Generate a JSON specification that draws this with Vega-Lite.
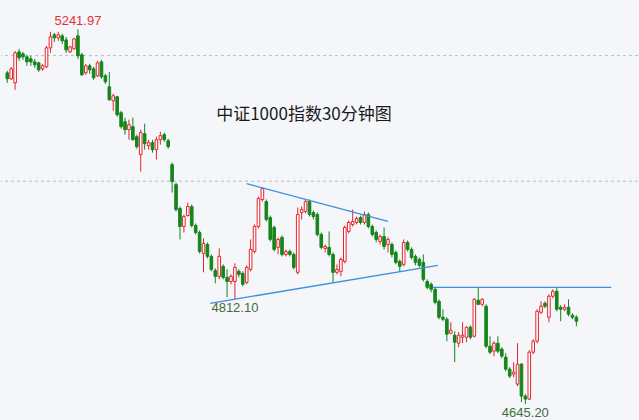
{
  "$schema": "https://vega.github.io/schema/vega-lite/v6.json",
  "width": 639,
  "height": 420,
  "autosize": {"type": "fit", "contains": "padding"},
  "padding": 0,
  "background": "#f4f6f9",
  "datasets": {
    "candles": [
      {"i": 0, "o": 5172.5, "h": 5175.7, "l": 5156.6, "c": 5163.0},
      {"i": 1, "o": 5163.0, "h": 5182.1, "l": 5161.4, "c": 5178.9},
      {"i": 2, "o": 5156.6, "h": 5207.5, "l": 5145.5, "c": 5204.3},
      {"i": 3, "o": 5205.9, "h": 5210.7, "l": 5191.6, "c": 5196.4},
      {"i": 4, "o": 5202.7, "h": 5205.9, "l": 5193.2, "c": 5198.0},
      {"i": 5, "o": 5198.0, "h": 5201.2, "l": 5183.7, "c": 5190.0},
      {"i": 6, "o": 5194.8, "h": 5199.6, "l": 5183.7, "c": 5190.0},
      {"i": 7, "o": 5190.0, "h": 5194.8, "l": 5180.5, "c": 5185.3},
      {"i": 8, "o": 5188.4, "h": 5190.0, "l": 5174.1, "c": 5177.3},
      {"i": 9, "o": 5178.9, "h": 5186.8, "l": 5175.7, "c": 5183.7},
      {"i": 10, "o": 5182.1, "h": 5215.5, "l": 5180.5, "c": 5212.3},
      {"i": 11, "o": 5212.3, "h": 5237.7, "l": 5204.3, "c": 5229.8},
      {"i": 12, "o": 5233.0, "h": 5236.1, "l": 5221.8, "c": 5228.2},
      {"i": 13, "o": 5228.2, "h": 5237.7, "l": 5223.4, "c": 5233.0},
      {"i": 14, "o": 5231.4, "h": 5234.6, "l": 5218.6, "c": 5223.4},
      {"i": 15, "o": 5225.0, "h": 5229.8, "l": 5204.3, "c": 5209.1},
      {"i": 16, "o": 5205.9, "h": 5215.5, "l": 5204.3, "c": 5213.9},
      {"i": 17, "o": 5210.7, "h": 5228.2, "l": 5209.1, "c": 5226.6},
      {"i": 18, "o": 5231.4, "h": 5241.97, "l": 5194.8, "c": 5199.6},
      {"i": 19, "o": 5201.2, "h": 5204.3, "l": 5167.8, "c": 5169.4},
      {"i": 20, "o": 5172.5, "h": 5186.8, "l": 5169.4, "c": 5183.7},
      {"i": 21, "o": 5183.7, "h": 5186.8, "l": 5170.9, "c": 5177.3},
      {"i": 22, "o": 5178.9, "h": 5182.1, "l": 5161.4, "c": 5164.6},
      {"i": 23, "o": 5167.8, "h": 5191.6, "l": 5166.2, "c": 5188.4},
      {"i": 24, "o": 5190.0, "h": 5193.2, "l": 5163.0, "c": 5166.2},
      {"i": 25, "o": 5167.8, "h": 5170.9, "l": 5155.0, "c": 5158.2},
      {"i": 26, "o": 5150.3, "h": 5174.1, "l": 5128.1, "c": 5129.7},
      {"i": 27, "o": 5128.1, "h": 5139.2, "l": 5112.2, "c": 5136.0},
      {"i": 28, "o": 5134.4, "h": 5136.0, "l": 5102.7, "c": 5105.8},
      {"i": 29, "o": 5109.0, "h": 5112.2, "l": 5083.6, "c": 5086.8},
      {"i": 30, "o": 5094.7, "h": 5101.1, "l": 5074.1, "c": 5082.0},
      {"i": 31, "o": 5082.0, "h": 5097.9, "l": 5066.1, "c": 5089.9},
      {"i": 32, "o": 5086.8, "h": 5101.1, "l": 5064.5, "c": 5066.1},
      {"i": 33, "o": 5070.9, "h": 5074.1, "l": 5051.8, "c": 5055.0},
      {"i": 34, "o": 5042.3, "h": 5082.0, "l": 5015.3, "c": 5077.3},
      {"i": 35, "o": 5075.7, "h": 5091.5, "l": 5050.2, "c": 5059.8},
      {"i": 36, "o": 5056.6, "h": 5066.1, "l": 5050.2, "c": 5061.4},
      {"i": 37, "o": 5061.4, "h": 5066.1, "l": 5045.5, "c": 5050.2},
      {"i": 38, "o": 5050.2, "h": 5070.9, "l": 5034.4, "c": 5066.1},
      {"i": 39, "o": 5066.1, "h": 5078.8, "l": 5058.2, "c": 5072.5},
      {"i": 40, "o": 5074.1, "h": 5077.3, "l": 5062.9, "c": 5066.1},
      {"i": 41, "o": 5064.5, "h": 5067.7, "l": 5051.8, "c": 5055.0},
      {"i": 42, "o": 5026.4, "h": 5029.6, "l": 4981.9, "c": 4999.4},
      {"i": 43, "o": 4994.6, "h": 4997.8, "l": 4951.8, "c": 4954.9},
      {"i": 44, "o": 4956.5, "h": 4959.7, "l": 4907.3, "c": 4927.9},
      {"i": 45, "o": 4927.9, "h": 4947.0, "l": 4918.4, "c": 4943.8},
      {"i": 46, "o": 4945.4, "h": 4966.0, "l": 4943.8, "c": 4959.7},
      {"i": 47, "o": 4959.7, "h": 4962.9, "l": 4926.4, "c": 4929.5},
      {"i": 48, "o": 4929.5, "h": 4932.7, "l": 4915.2, "c": 4918.4},
      {"i": 49, "o": 4918.4, "h": 4921.6, "l": 4885.0, "c": 4888.2},
      {"i": 50, "o": 4885.0, "h": 4908.9, "l": 4854.9, "c": 4900.9},
      {"i": 51, "o": 4899.3, "h": 4902.5, "l": 4877.1, "c": 4880.3},
      {"i": 52, "o": 4880.3, "h": 4883.4, "l": 4856.5, "c": 4859.6},
      {"i": 53, "o": 4858.0, "h": 4861.2, "l": 4837.4, "c": 4848.5},
      {"i": 54, "o": 4848.5, "h": 4893.0, "l": 4843.7, "c": 4880.3},
      {"i": 55, "o": 4864.4, "h": 4867.6, "l": 4843.7, "c": 4846.9},
      {"i": 56, "o": 4846.9, "h": 4859.6, "l": 4815.2, "c": 4840.3},
      {"i": 57, "o": 4840.3, "h": 4851.7, "l": 4835.8, "c": 4848.5},
      {"i": 58, "o": 4840.3, "h": 4869.2, "l": 4812.1, "c": 4862.8},
      {"i": 59, "o": 4856.5, "h": 4859.6, "l": 4846.9, "c": 4851.7},
      {"i": 60, "o": 4853.3, "h": 4856.5, "l": 4832.6, "c": 4835.8},
      {"i": 61, "o": 4838.9, "h": 4866.0, "l": 4835.8, "c": 4862.8},
      {"i": 62, "o": 4859.6, "h": 4907.3, "l": 4856.5, "c": 4891.4},
      {"i": 63, "o": 4888.2, "h": 4931.1, "l": 4885.0, "c": 4927.9},
      {"i": 64, "o": 4927.9, "h": 4975.6, "l": 4924.8, "c": 4972.4},
      {"i": 65, "o": 4970.8, "h": 4989.9, "l": 4967.6, "c": 4988.3},
      {"i": 66, "o": 4967.6, "h": 4970.8, "l": 4935.9, "c": 4939.1},
      {"i": 67, "o": 4942.2, "h": 4945.4, "l": 4904.1, "c": 4907.3},
      {"i": 68, "o": 4926.4, "h": 4929.5, "l": 4888.2, "c": 4891.4},
      {"i": 69, "o": 4894.6, "h": 4910.5, "l": 4883.4, "c": 4907.3},
      {"i": 70, "o": 4910.5, "h": 4913.6, "l": 4880.3, "c": 4883.4},
      {"i": 71, "o": 4883.4, "h": 4891.4, "l": 4880.3, "c": 4888.2},
      {"i": 72, "o": 4888.2, "h": 4891.4, "l": 4880.3, "c": 4883.4},
      {"i": 73, "o": 4883.4, "h": 4886.6, "l": 4859.6, "c": 4862.8},
      {"i": 74, "o": 4854.9, "h": 4958.1, "l": 4851.7, "c": 4947.0},
      {"i": 75, "o": 4950.2, "h": 4959.7, "l": 4939.1, "c": 4954.9},
      {"i": 76, "o": 4951.8, "h": 4970.8, "l": 4948.6, "c": 4967.6},
      {"i": 77, "o": 4967.6, "h": 4970.8, "l": 4943.8, "c": 4947.0},
      {"i": 78, "o": 4950.2, "h": 4953.3, "l": 4939.1, "c": 4943.8},
      {"i": 79, "o": 4947.0, "h": 4950.2, "l": 4912.0, "c": 4915.2},
      {"i": 80, "o": 4915.2, "h": 4918.4, "l": 4891.4, "c": 4894.6},
      {"i": 81, "o": 4893.0, "h": 4899.3, "l": 4886.6, "c": 4896.2},
      {"i": 82, "o": 4894.6, "h": 4920.0, "l": 4880.3, "c": 4883.4},
      {"i": 83, "o": 4883.4, "h": 4886.6, "l": 4838.9, "c": 4854.9},
      {"i": 84, "o": 4854.9, "h": 4867.6, "l": 4851.7, "c": 4859.6},
      {"i": 85, "o": 4856.5, "h": 4878.7, "l": 4848.5, "c": 4875.5},
      {"i": 86, "o": 4872.3, "h": 4929.5, "l": 4869.2, "c": 4926.4},
      {"i": 87, "o": 4920.0, "h": 4937.5, "l": 4916.8, "c": 4934.3},
      {"i": 88, "o": 4931.1, "h": 4954.9, "l": 4927.9, "c": 4935.9},
      {"i": 89, "o": 4934.3, "h": 4943.8, "l": 4931.1, "c": 4940.6},
      {"i": 90, "o": 4942.2, "h": 4945.4, "l": 4931.1, "c": 4934.3},
      {"i": 91, "o": 4934.3, "h": 4951.8, "l": 4931.1, "c": 4947.0},
      {"i": 92, "o": 4947.0, "h": 4950.2, "l": 4924.8, "c": 4927.9},
      {"i": 93, "o": 4927.9, "h": 4931.1, "l": 4912.0, "c": 4915.2},
      {"i": 94, "o": 4918.4, "h": 4921.6, "l": 4902.5, "c": 4907.3},
      {"i": 95, "o": 4904.1, "h": 4915.2, "l": 4899.3, "c": 4912.0},
      {"i": 96, "o": 4912.0, "h": 4926.4, "l": 4891.4, "c": 4896.2},
      {"i": 97, "o": 4899.3, "h": 4910.5, "l": 4886.6, "c": 4907.3},
      {"i": 98, "o": 4899.3, "h": 4902.5, "l": 4878.7, "c": 4883.4},
      {"i": 99, "o": 4886.6, "h": 4889.8, "l": 4867.6, "c": 4870.7},
      {"i": 100, "o": 4872.3, "h": 4875.5, "l": 4856.5, "c": 4864.4},
      {"i": 101, "o": 4867.6, "h": 4907.3, "l": 4864.4, "c": 4902.5},
      {"i": 102, "o": 4902.5, "h": 4905.7, "l": 4888.2, "c": 4891.4},
      {"i": 103, "o": 4891.4, "h": 4894.6, "l": 4875.5, "c": 4878.7},
      {"i": 104, "o": 4880.3, "h": 4883.4, "l": 4866.0, "c": 4870.7},
      {"i": 105, "o": 4875.5, "h": 4878.7, "l": 4862.8, "c": 4866.0},
      {"i": 106, "o": 4870.7, "h": 4883.4, "l": 4840.3, "c": 4843.7},
      {"i": 107, "o": 4840.3, "h": 4843.7, "l": 4827.9, "c": 4831.0},
      {"i": 108, "o": 4835.8, "h": 4838.9, "l": 4823.1, "c": 4827.9},
      {"i": 109, "o": 4827.9, "h": 4831.0, "l": 4804.0, "c": 4807.2},
      {"i": 110, "o": 4808.8, "h": 4812.0, "l": 4780.2, "c": 4783.4},
      {"i": 111, "o": 4783.4, "h": 4796.1, "l": 4777.0, "c": 4780.2},
      {"i": 112, "o": 4780.2, "h": 4783.4, "l": 4745.3, "c": 4756.4},
      {"i": 113, "o": 4758.0, "h": 4775.4, "l": 4756.4, "c": 4762.7},
      {"i": 114, "o": 4754.8, "h": 4761.1, "l": 4711.9, "c": 4743.7},
      {"i": 115, "o": 4742.1, "h": 4759.6, "l": 4735.7, "c": 4754.8},
      {"i": 116, "o": 4751.6, "h": 4775.4, "l": 4742.1, "c": 4754.8},
      {"i": 117, "o": 4751.6, "h": 4769.1, "l": 4743.7, "c": 4767.5},
      {"i": 118, "o": 4767.5, "h": 4770.7, "l": 4748.4, "c": 4751.6},
      {"i": 119, "o": 4753.2, "h": 4813.6, "l": 4751.6, "c": 4812.0},
      {"i": 120, "o": 4810.4, "h": 4831.0, "l": 4802.5, "c": 4804.0},
      {"i": 121, "o": 4804.0, "h": 4813.6, "l": 4800.9, "c": 4812.0},
      {"i": 122, "o": 4800.9, "h": 4804.0, "l": 4734.1, "c": 4737.3},
      {"i": 123, "o": 4737.3, "h": 4753.2, "l": 4724.6, "c": 4727.8},
      {"i": 124, "o": 4729.4, "h": 4745.3, "l": 4721.4, "c": 4742.1},
      {"i": 125, "o": 4742.1, "h": 4753.2, "l": 4726.2, "c": 4729.4},
      {"i": 126, "o": 4732.6, "h": 4735.7, "l": 4718.3, "c": 4721.4},
      {"i": 127, "o": 4719.9, "h": 4726.2, "l": 4697.6, "c": 4700.8},
      {"i": 128, "o": 4700.8, "h": 4704.0, "l": 4686.5, "c": 4689.7},
      {"i": 129, "o": 4692.8, "h": 4711.9, "l": 4688.1, "c": 4696.0},
      {"i": 130, "o": 4677.0, "h": 4742.1, "l": 4673.8, "c": 4708.7},
      {"i": 131, "o": 4708.7, "h": 4710.3, "l": 4648.4, "c": 4657.9},
      {"i": 132, "o": 4657.9, "h": 4661.1, "l": 4645.2, "c": 4653.1},
      {"i": 133, "o": 4653.1, "h": 4731.0, "l": 4651.5, "c": 4727.8},
      {"i": 134, "o": 4727.8, "h": 4748.4, "l": 4724.6, "c": 4745.3},
      {"i": 135, "o": 4745.3, "h": 4796.1, "l": 4742.1, "c": 4792.9},
      {"i": 136, "o": 4791.3, "h": 4808.8, "l": 4788.2, "c": 4800.9},
      {"i": 137, "o": 4805.6, "h": 4808.8, "l": 4797.7, "c": 4800.9},
      {"i": 138, "o": 4783.4, "h": 4819.9, "l": 4775.4, "c": 4816.8},
      {"i": 139, "o": 4816.8, "h": 4827.9, "l": 4813.6, "c": 4824.7},
      {"i": 140, "o": 4824.7, "h": 4831.0, "l": 4792.9, "c": 4796.1},
      {"i": 141, "o": 4799.3, "h": 4802.5, "l": 4777.0, "c": 4796.1},
      {"i": 142, "o": 4796.1, "h": 4804.0, "l": 4792.9, "c": 4799.3},
      {"i": 143, "o": 4799.3, "h": 4812.0, "l": 4785.0, "c": 4788.2},
      {"i": 144, "o": 4786.6, "h": 4789.8, "l": 4780.2, "c": 4783.4},
      {"i": 145, "o": 4783.4, "h": 4786.6, "l": 4769.1, "c": 4777.0}
    ],
    "trendlines": [
      {"name": "upper", "i1": 61.0, "p1": 4996.2, "i2": 97.0, "p2": 4935.9},
      {"name": "lower", "i1": 51.7, "p1": 4805.6, "i2": 109.7, "p2": 4866.0},
      {"name": "neckline", "i1": 108.4, "p1": 4831.0, "i2": 153.9, "p2": 4831.0}
    ],
    "gridlines": [
      {"p": 5200},
      {"p": 5000}
    ]
  },
  "encoding": {
    "x": {
      "type": "quantitative",
      "scale": {"domain": [-0.325, 159.425], "nice": false, "zero": false},
      "axis": null
    }
  },
  "layer": [
    {
      "data": {"name": "gridlines"},
      "mark": {"type": "rule", "color": "#b9bcc2", "strokeWidth": 1, "strokeDash": [3, 3]},
      "encoding": {
        "x": null,
        "y": {"field": "p", "type": "quantitative", "scale": {"domain": [4621.4, 5288.5], "nice": false, "zero": false}, "axis": null}
      }
    },
    {
      "data": {"name": "candles"},
      "mark": {"type": "rule", "strokeWidth": 1},
      "encoding": {
        "x": {"field": "i", "type": "quantitative"},
        "y": {"field": "l", "type": "quantitative"},
        "y2": {"field": "h"},
        "color": {
          "condition": {"test": "datum.c >= datum.o", "value": "#e3252d"},
          "value": "#16851c"
        }
      }
    },
    {
      "data": {"name": "candles"},
      "mark": {"type": "bar", "width": 2.6, "strokeWidth": 1},
      "encoding": {
        "x": {"field": "i", "type": "quantitative"},
        "y": {"field": "o", "type": "quantitative"},
        "y2": {"field": "c"},
        "fill": {
          "condition": {"test": "datum.c >= datum.o", "value": "#ffffff"},
          "value": "#16851c"
        },
        "stroke": {
          "condition": {"test": "datum.c >= datum.o", "value": "#e3252d"},
          "value": "#16851c"
        }
      }
    },
    {
      "data": {"name": "trendlines"},
      "mark": {"type": "rule", "color": "#3b8fdc", "strokeWidth": 1.3},
      "encoding": {
        "x": {"field": "i1", "type": "quantitative"},
        "x2": {"field": "i2"},
        "y": {"field": "p1", "type": "quantitative"},
        "y2": {"field": "p2"}
      }
    },
    {
      "data": {"values": [{"i": 18, "p": 5241.97, "label": "5241.97"}]},
      "mark": {"type": "text", "font": "Liberation Sans", "fontSize": 13, "color": "#e0323a", "baseline": "middle", "dy": -8},
      "encoding": {
        "x": {"field": "i", "type": "quantitative"},
        "y": {"field": "p", "type": "quantitative"},
        "text": {"field": "label"}
      }
    },
    {
      "data": {"values": [
        {"i": 58, "p": 4812.1, "label": "4812.10"},
        {"i": 132, "p": 4645.2, "label": "4645.20"}
      ]},
      "mark": {"type": "text", "font": "Liberation Sans", "fontSize": 13, "color": "#3f6e36", "baseline": "middle", "dy": 8.5},
      "encoding": {
        "x": {"field": "i", "type": "quantitative"},
        "y": {"field": "p", "type": "quantitative"},
        "text": {"field": "label"}
      }
    },
    {
      "data": {"values": [{"i": 75.6, "p": 5105.0, "label": "中证1000指数30分钟图"}]},
      "mark": {"type": "text", "font": "Noto Sans CJK SC", "fontSize": 17, "color": "#1a1a1a", "baseline": "middle"},
      "encoding": {
        "x": {"field": "i", "type": "quantitative"},
        "y": {"field": "p", "type": "quantitative"},
        "text": {"field": "label"}
      }
    }
  ],
  "resolve": {"scale": {"y": "shared"}},
  "config": {
    "view": {"stroke": null},
    "axis": {"domain": false, "grid": false, "ticks": false, "labels": false, "title": null}
  }
}
